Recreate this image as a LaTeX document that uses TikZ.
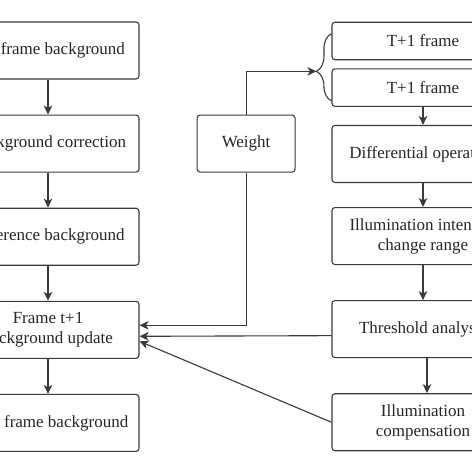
\documentclass[tikz,border=0pt]{standalone}
\usepackage{fontspec}
\setmainfont{Liberation Serif}
\usepackage{xcolor}
\usepackage{tikz}
\usetikzlibrary{arrows.meta,positioning,calc,decorations.pathreplacing}
\definecolor{flink}{HTML}{3A3A3A}
\definecolor{fltext}{HTML}{262626}

\begin{document}
\begin{tikzpicture}[
  x=1pt,y=-1pt,
  node distance=35pt and 57pt,
  every node/.style={font=\fontsize{17}{20}\selectfont,align=center,text=fltext},
  box/.style={draw=flink,line width=1.1pt,rounded corners=3pt,minimum width=182pt,minimum height=57pt,inner sep=2pt,fill=white},
  thinbox/.style={box,minimum height=37.5pt},
  arrow/.style={-{Stealth[length=9pt,width=8.5pt,inset=2.5pt]},line width=1.1pt,color=flink},
  bracket/.style={draw=flink,line width=1.1pt,decorate,decoration={brace,amplitude=15pt,aspect=0.44}}
]
\fill[white] (0,0) rectangle (472,472);
\useasboundingbox (0,0) rectangle (472,472);
\clip (0,0) rectangle (472,472);
% left column
\node[box] (prevframe) at (48,50.5) {Old frame background};
\node[box,below=of prevframe] (bgcorr) {Background correction};
\node[box,below=of bgcorr] (refbg) {Reference background};
\node[box,below=of refbg] (update) {Frame t+1\\background update};
\node[box,below=of update] (nextframe) {New frame background};
% middle
\node[box,minimum width=98pt,right=of bgcorr] (weight) {Weight};
% right column
\node[thinbox] (frameA) at (423,41) {T+1 frame};
\node[thinbox,below=8pt of frameA] (frameB) {T+1 frame};
\node[box,below=18pt of frameB] (diffop) {Differential operation};
\node[box,below=24pt of diffop] (illum) {Illumination intensity\\change range};
\node[box,below=of illum] (thresh) {Threshold analysis};
\node[box,below=of thresh] (comp) {Illumination\\compensation};
% brace over the two frames
\coordinate (bracetop) at ([yshift=-12pt]frameA.north west);
\coordinate (bracebot) at ([yshift=6pt]frameB.south west);
\coordinate (bracetip) at ($(bracebot)!0.44!(bracetop)+(-15,0)$);
\draw[bracket] (bracebot) -- (bracetop);
% connectors
\draw[arrow] (prevframe) -- (bgcorr);
\draw[arrow] (bgcorr) -- (refbg);
\draw[arrow] (refbg) -- (update);
\draw[arrow] (update) -- (nextframe);
\draw[arrow] (frameB) -- (diffop);
\draw[arrow] (diffop) -- (illum);
\draw[arrow] (illum) -- (thresh);
\draw[arrow] ([xshift=4pt]thresh.south) -- ([xshift=4pt]comp.north);
\draw[arrow] (weight.north) |- (bracetip);
\draw[arrow] (weight.south) |- ([yshift=4.5pt]update.east);
\draw[arrow] ([yshift=-6.5pt]thresh.west) -- ([yshift=-6.5pt]update.east);
\draw[arrow] (comp.west) -- ([yshift=-11.5pt]update.east);
\end{tikzpicture}
\end{document}
